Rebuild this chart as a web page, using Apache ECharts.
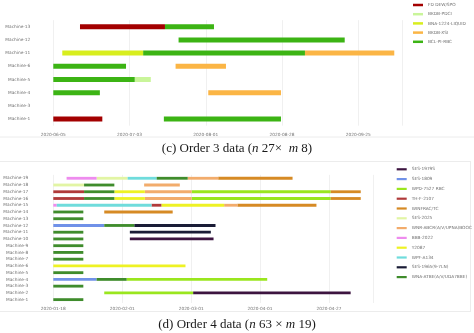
<!DOCTYPE html>
<html>
<head>
<meta charset="utf-8">
<script src="https://cdn.jsdelivr.net/npm/echarts@6/dist/echarts.min.js"></script>
<style>
  html, body { margin: 0; padding: 0; background: #fff; }
  #chart { width: 474px; height: 333px; }
</style>
</head>
<body>
<div id="chart"></div>
<script>
// ---- Order 3 schedule (days from the first tick) ----
const order3Machines = ['Machine-1', 'Machine-3', 'Machine-4', 'Machine-5', 'Machine-6', 'Machine-11', 'Machine-12', 'Machine-13'];
const order3Ticks = ['2020-06-05', '2020-07-03', '2020-08-01', '2020-08-28', '2020-09-25'];
const o3FdDewSpo = [['Machine-13', 9.8, 41.0], ['Machine-1', 0, 18.0]];
const o3BkdbPdci = [['Machine-5', 29.9, 35.8]];
const o3Bna1224 = [['Machine-11', 3.3, 33.0]];
const o3BkdbXsi = [['Machine-11', 92.4, 125.2], ['Machine-6', 44.9, 63.4], ['Machine-4', 56.9, 83.6]];
const o3BclPiRbc = [['Machine-13', 41.0, 59.0], ['Machine-12', 46.0, 107.0], ['Machine-11', 33.0, 92.4],
  ['Machine-6', 0, 26.7], ['Machine-5', 0, 29.9], ['Machine-4', 0, 17.1], ['Machine-1', 40.6, 83.6]];

// ---- Order 4 schedule (days from the first tick) ----
const order4Machines = ['Machine-1', 'Machine-2', 'Machine-3', 'Machine-4', 'Machine-5', 'Machine-6', 'Machine-7',
  'Machine-8', 'Machine-9', 'Machine-10', 'Machine-11', 'Machine-12', 'Machine-13', 'Machine-14', 'Machine-15',
  'Machine-16', 'Machine-17', 'Machine-18', 'Machine-19'];
const order4Ticks = ['2020-01-18', '2020-02-01', '2020-03-01', '2020-04-01', '2020-04-27'];
const o4Ses1979s = [['Machine-10', 31.1, 65.1], ['Machine-2', 56.8, 120.8]];
const o4Ses1809 = [['Machine-12', 0, 20.7], ['Machine-4', 0, 17.6]];
const o4Wpd7527 = [['Machine-17', 56.2, 112.7], ['Machine-16', 56.2, 112.7], ['Machine-4', 29.8, 86.9], ['Machine-2', 20.7, 56.8]];
const o4ThF2107 = [['Machine-17', 0, 12.5], ['Machine-16', 0, 12.5], ['Machine-15', 39.9, 44.0]];
const o4Winfrac = [['Machine-19', 67.0, 97.2], ['Machine-17', 112.7, 124.9], ['Machine-16', 112.7, 124.9],
  ['Machine-15', 74.8, 106.9], ['Machine-14', 20.7, 48.5]];
const o4Ses2025 = [['Machine-19', 17.6, 30.2], ['Machine-18', 0, 12.5]];
const o4WnrAbcr = [['Machine-19', 54.6, 67.0], ['Machine-18', 36.9, 51.4], ['Machine-17', 37.2, 56.2],
  ['Machine-16', 37.2, 56.2], ['Machine-15', 69.4, 74.8]];
const o4Bbb2022 = [['Machine-19', 5.4, 17.6], ['Machine-15', 0, 1.4]];
const o4Y2087 = [['Machine-17', 24.8, 37.2], ['Machine-16', 24.8, 37.2], ['Machine-15', 44.0, 69.4], ['Machine-6', 0, 53.7]];
const o4WpfA134 = [['Machine-19', 30.2, 42.0], ['Machine-15', 1.4, 39.9]];
const o4Ses1965 = [['Machine-12', 32.9, 65.9], ['Machine-11', 31.1, 64.0]];
const o4WnaAtbe = [['Machine-19', 42.0, 54.6], ['Machine-18', 12.5, 24.8], ['Machine-17', 12.5, 24.8],
  ['Machine-16', 12.5, 24.8], ['Machine-14', 0, 12.2], ['Machine-13', 0, 12.2], ['Machine-12', 20.7, 32.9],
  ['Machine-11', 0, 12.2], ['Machine-10', 0, 12.2], ['Machine-9', 0, 12.2], ['Machine-8', 0, 12.2],
  ['Machine-7', 0, 12.2], ['Machine-5', 0, 12.2], ['Machine-4', 17.6, 29.8], ['Machine-3', 0, 12.2],
  ['Machine-1', 0, 12.2]];

const order3Series = [
  ['FD DEW/SPO', '#a30000', o3FdDewSpo],
  ['BKDB-PDCI', '#c9f59a', o3BkdbPdci],
  ['BNA-1224-LIQUID', '#d8ee1e', o3Bna1224],
  ['BKDB-XSI', '#fbb545', o3BkdbXsi],
  ['BCL-PI-RBC', '#3cb414', o3BclPiRbc]
];
const order4Series = [
  ['SES-1979S', '#3d1540', o4Ses1979s],
  ['SES-1809', '#7091e8', o4Ses1809],
  ['WPD-7527 RBC', '#9ae61e', o4Wpd7527],
  ['TH-F-2107', '#b03a3a', o4ThF2107],
  ['WINFRAC/TC', '#d68a24', o4Winfrac],
  ['SES-2025', '#e2f5a4', o4Ses2025],
  ['WNR-ABCR(A/V/UPNA)BOOC', '#f2ac6c', o4WnrAbcr],
  ['BBB-2022', '#ee8cee', o4Bbb2022],
  ['Y2087', '#eef224', o4Y2087],
  ['WPF-A134', '#6fdcdc', o4WpfA134],
  ['SES-1965(9-7LN)', '#1a1c36', o4Ses1965],
  ['WNA-ATBE(A/V/UDA7BBE)', '#3f8c2c', o4WnaAtbe]
];

const DAY_STEP = 28;

function barRenderer(ratio) {
  return function (params, api) {
    const cat = api.value(0);
    const a = api.coord([api.value(1), cat]);
    const b = api.coord([api.value(2), cat]);
    const h = api.size([0, 1])[1] * ratio;
    return {
      type: 'rect',
      shape: { x: a[0], y: a[1] - h / 2, width: b[0] - a[0], height: h },
      style: api.style()
    };
  };
}

function buildSeries(list, gridIndex, ratio) {
  return list.map(([name, color, data]) => ({
    type: 'custom',
    name: name,
    xAxisIndex: gridIndex,
    yAxisIndex: gridIndex,
    renderItem: barRenderer(ratio),
    itemStyle: { color: color },
    encode: { x: [1, 2], y: 0 },
    data: data
  }));
}

function tickFormatter(ticks) {
  return v => ticks[Math.round(v / DAY_STEP)] || '';
}

const smallText = { color: '#707070', fontSize: 4.3, fontFamily: 'DejaVu Sans' };

const chart = echarts.init(document.getElementById('chart'), null, { renderer: 'canvas' });

chart.setOption({
  animation: false,
  backgroundColor: '#ffffff',
  grid: [
    { left: 53.3, width: 348.6, top: 20.1, height: 105.6 },
    { left: 53.3, width: 320, top: 174.9, height: 128.1 }
  ],
  xAxis: [
    {
      gridIndex: 0, type: 'value', min: 0, max: 128, interval: DAY_STEP,
      axisLine: { show: false }, axisTick: { show: false },
      splitLine: { lineStyle: { color: '#ececec', width: 0.8 } },
      axisLabel: Object.assign({ margin: 7, formatter: tickFormatter(order3Ticks), showMaxLabel: false }, smallText)
    },
    {
      gridIndex: 1, type: 'value', min: 0, max: 130, interval: DAY_STEP,
      axisLine: { show: false }, axisTick: { show: false },
      splitLine: { lineStyle: { color: '#ececec', width: 0.8 } },
      axisLabel: Object.assign({ margin: 4, formatter: tickFormatter(order4Ticks), showMaxLabel: false }, smallText)
    }
  ],
  yAxis: [
    {
      gridIndex: 0, type: 'category', data: order3Machines,
      axisLine: { show: false }, axisTick: { show: false }, splitLine: { show: false },
      axisLabel: Object.assign({ margin: 23, interval: 0 }, smallText)
    },
    {
      gridIndex: 1, type: 'category', data: order4Machines,
      axisLine: { show: false }, axisTick: { show: false }, splitLine: { show: false },
      axisLabel: Object.assign({ margin: 25, interval: 0 }, smallText)
    }
  ],
  legend: [
    {
      orient: 'vertical', left: 413, top: 2, padding: 0, itemGap: 3.2,
      icon: 'rect', itemWidth: 10, itemHeight: 2.5,
      textStyle: Object.assign({ lineHeight: 6 }, smallText),
      data: order3Series.map(s => s[0])
    },
    {
      orient: 'vertical', left: 396.7, top: 166.3, padding: 0, itemGap: 3.8,
      icon: 'rect', itemWidth: 10, itemHeight: 2.2,
      textStyle: Object.assign({ lineHeight: 6 }, smallText),
      data: order4Series.map(s => s[0])
    }
  ],
  series: buildSeries(order3Series, 0, 0.38).concat(buildSeries(order4Series, 1, 0.42)),
  graphic: [
    // frame lines around the two panels
    { type: 'line', shape: { x1: 0, y1: 137, x2: 474, y2: 137 }, style: { stroke: '#ececec', lineWidth: 1 } },
    { type: 'line', shape: { x1: 0, y1: 161.5, x2: 471, y2: 161.5 }, style: { stroke: '#ececec', lineWidth: 1 } },
    { type: 'line', shape: { x1: 470.5, y1: 161.5, x2: 470.5, y2: 311 }, style: { stroke: '#ececec', lineWidth: 1 } },
    { type: 'line', shape: { x1: 0, y1: 311.5, x2: 471, y2: 311.5 }, style: { stroke: '#ececec', lineWidth: 1 } },
    {
      type: 'text', left: 'center', top: 142,
      style: {
        text: '(c) Order 3 data ({i|n} 27×  {i|m} 8)',
        fontFamily: 'Liberation Serif', fontSize: 13, fill: '#1a1a1a',
        rich: { i: { fontStyle: 'italic', fontFamily: 'Liberation Serif', fontSize: 13, fill: '#1a1a1a' } }
      }
    },
    {
      type: 'text', left: 'center', top: 318,
      style: {
        text: '(d) Order 4 data ({i|n} 63 × {i|m} 19)',
        fontFamily: 'Liberation Serif', fontSize: 13, fill: '#1a1a1a',
        rich: { i: { fontStyle: 'italic', fontFamily: 'Liberation Serif', fontSize: 13, fill: '#1a1a1a' } }
      }
    }
  ]
});
</script>
</body>
</html>
